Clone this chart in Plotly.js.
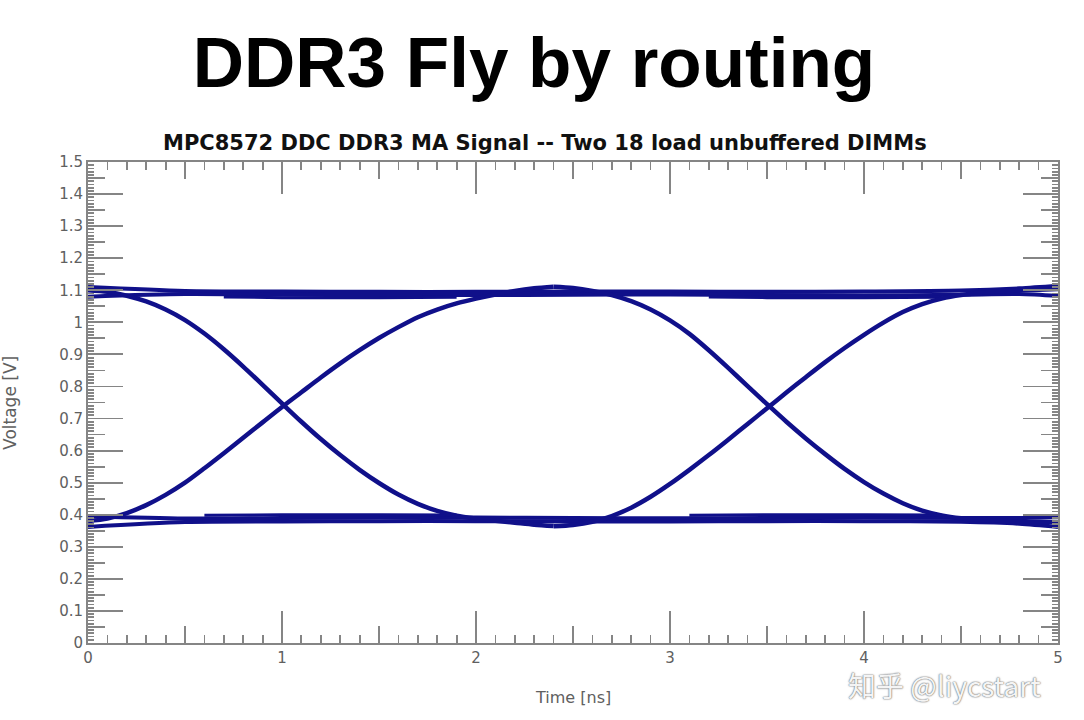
<!DOCTYPE html>
<html>
<head>
<meta charset="utf-8">
<script src="https://cdn.plot.ly/plotly-3.0.1.min.js"></script>
<style>
html,body{margin:0;padding:0;background:#fff;}
#chart{width:1084px;height:720px;}
</style>
</head>
<body>
<div id="chart"></div>
<script>
// ---- Data (time in ns, voltage in V) ----
var tEye1 = [0,0.1,0.2,0.3,0.4,0.5,0.6,0.7,0.8,0.9,1.0,1.1,1.2,1.3,1.4,1.5,1.6,1.7,1.8,1.9,2.0,2.1,2.2,2.3,2.4];
var vFall1 = [1.100,1.095,1.083,1.065,1.040,1.007,0.965,0.916,0.862,0.805,0.747,0.690,0.636,0.586,0.540,0.499,0.463,0.434,0.412,0.397,0.388,0.381,0.375,0.369,0.365];
var vRise1 = [0.380,0.388,0.405,0.430,0.462,0.500,0.545,0.592,0.640,0.688,0.736,0.782,0.828,0.872,0.913,0.951,0.985,1.016,1.040,1.059,1.074,1.087,1.098,1.106,1.111];

var tEye2 = [2.4,2.5,2.6,2.7,2.8,2.9,3.0,3.1,3.2,3.3,3.4,3.5,3.6,3.7,3.8,3.9,4.0,4.1,4.2,4.3,4.4,4.5,4.6,4.7,4.8,4.9,5.0];
var vFall2 = [1.111,1.107,1.098,1.085,1.066,1.040,1.006,0.964,0.913,0.858,0.801,0.745,0.690,0.638,0.589,0.543,0.502,0.466,0.436,0.413,0.398,0.389,0.384,0.381,0.379,0.378,0.377];
var vRise2 = [0.364,0.368,0.378,0.396,0.422,0.456,0.496,0.540,0.586,0.634,0.683,0.732,0.781,0.829,0.876,0.920,0.961,0.999,1.032,1.057,1.074,1.085,1.092,1.097,1.100,1.102,1.104];

var tRail = [0,0.5,1.0,1.5,2.0,2.5,3.0,3.5,4.0,4.5,4.8,5.0];
var vHigh1 = [1.110,1.098,1.096,1.095,1.095,1.096,1.096,1.095,1.096,1.099,1.106,1.114];
var vHigh2 = [1.080,1.088,1.086,1.085,1.085,1.086,1.087,1.085,1.084,1.086,1.088,1.082];
var vLow1  = [0.362,0.377,0.379,0.380,0.380,0.379,0.379,0.380,0.380,0.378,0.372,0.362];
var vLow2  = [0.395,0.388,0.390,0.391,0.391,0.390,0.389,0.390,0.391,0.390,0.390,0.394];

var tHigh3 = [0.7,1.0,1.5,1.9,null,3.2,3.5,4.0,4.4];
var vHigh3 = [1.079,1.077,1.077,1.078,null,1.079,1.077,1.077,1.078];
var tLow3  = [0.6,1.0,1.5,1.9,null,3.1,3.5,4.0,4.4];
var vLow3  = [0.398,0.400,0.400,0.399,null,0.398,0.400,0.400,0.399];

var xTickVals = [0,1,2,3,4,5];
var yTickVals = [0,0.1,0.2,0.3,0.4,0.5,0.6,0.7,0.8,0.9,1.0,1.1,1.2,1.3,1.4,1.5];

// ---- Styles ----
var navy = '#10108a';
var axisGray = '#858585';
var labelGray = '#606060';
var chartFont = 'DejaVu Sans, Verdana, sans-serif';

function line(x, y, w) {
  return {type:'scatter', mode:'lines', x:x, y:y, connectgaps:false,
          line:{color:navy, width:w, shape:'spline', smoothing:0.8},
          hoverinfo:'skip', showlegend:false};
}

var traces = [
  line(tRail, vHigh1, 4),
  line(tRail, vHigh2, 4),
  line(tHigh3, vHigh3, 3),
  line(tRail, vLow1, 4),
  line(tRail, vLow2, 4),
  line(tLow3, vLow3, 3),
  line(tEye1, vFall1, 4.5),
  line(tEye1, vRise1, 4.5),
  line(tEye2, vFall2, 4.5),
  line(tEye2, vRise2, 4.5),
  {type:'scatter', mode:'lines', x:[], y:[], xaxis:'x2', yaxis:'y2', showlegend:false, hoverinfo:'skip'}
];

var baseAxis = {
  showgrid:false, zeroline:false, showline:true, linecolor:axisGray, linewidth:2,
  mirror:'ticks', ticks:'inside', tickcolor:axisGray, tickwidth:1.8
};

var layout = {
  width:1084, height:720,
  margin:{l:88, r:26, t:162, b:77},
  paper_bgcolor:'#ffffff', plot_bgcolor:'#ffffff',
  showlegend:false,
  title:{
    text:'<b>DDR3 Fly by routing</b>',
    x:0.4926, xanchor:'center', xref:'container',
    y:0.914, yanchor:'middle', yref:'container',
    font:{family:'Liberation Sans, Arial, sans-serif', size:71, color:'#000000'}
  },
  xaxis: Object.assign({}, baseAxis, {
    range:[0,5], tickvals:xTickVals, ticklen:32,
    tickfont:{family:chartFont, size:15, color:labelGray},
    minor:{dtick:0.1, tick0:0, ticks:'inside', ticklen:8, tickcolor:axisGray, tickwidth:1.8}
  }),
  xaxis2: Object.assign({}, baseAxis, {
    range:[0,5], overlaying:'x', anchor:'y', side:'bottom',
    dtick:0.5, tick0:0, ticklen:17, showticklabels:false
  }),
  yaxis: Object.assign({}, baseAxis, {
    range:[0,1.5], tickvals:yTickVals, ticklen:35,
    tickfont:{family:chartFont, size:15, color:labelGray},
    minor:{dtick:0.01, tick0:0, ticks:'inside', ticklen:6, tickcolor:axisGray, tickwidth:1.8}
  }),
  yaxis2: Object.assign({}, baseAxis, {
    range:[0,1.5], overlaying:'y', anchor:'x', side:'left',
    dtick:0.05, tick0:0, ticklen:17, showticklabels:false
  }),
  annotations:[
    {text:'<b>MPC8572 DDC DDR3 MA Signal -- Two 18 load unbuffered DIMMs</b>',
     xref:'paper', yref:'paper', x:0.471, y:1.0395, xanchor:'center', yanchor:'middle',
     showarrow:false, font:{family:chartFont, size:21, color:'#111111'}},
    {text:'Time [ns]', xref:'paper', yref:'paper', x:0.5, y:-0.1143,
     xanchor:'center', yanchor:'middle', showarrow:false,
     font:{family:chartFont, size:16, color:labelGray}},
    {text:'Voltage [V]', xref:'paper', yref:'paper', x:-0.0805, y:0.499,
     xanchor:'center', yanchor:'middle', textangle:-90, showarrow:false,
     font:{family:chartFont, size:17, color:labelGray}},
    {text:'知乎 @liycstart', xref:'paper', yref:'paper', x:0.8835, y:-0.0873,
     xanchor:'center', yanchor:'middle', showarrow:false,
     font:{family:'Noto Sans CJK SC, Noto Sans, sans-serif', size:28, color:'#f4f4f4',
           shadow:'0 0 1px #666, 0 0 2px #777'}}
  ]
};

Plotly.newPlot('chart', traces, layout, {displayModeBar:false, staticPlot:true});
</script>
</body>
</html>
